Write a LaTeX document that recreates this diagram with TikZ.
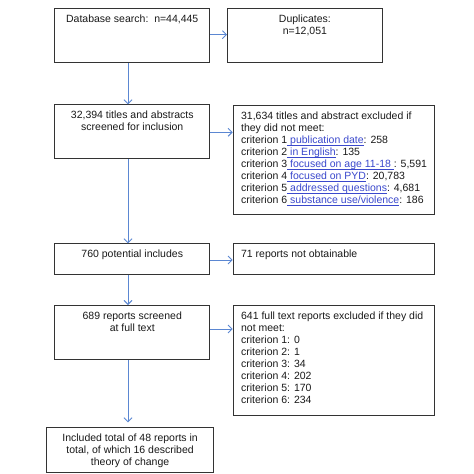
\documentclass[tikz,border=0pt]{standalone}
\usepackage{fontspec}
\setmainfont{Liberation Sans}
\usetikzlibrary{arrows.meta}
\definecolor{boxline}{HTML}{333333}
\definecolor{arrowblue}{HTML}{5B87D2}
\definecolor{linkblue}{HTML}{3A48CC}
\newsavebox{\lnkbox}
\newcommand{\lnk}[1]{{\color{linkblue}\sbox{\lnkbox}{#1}\rlap{\rule[-1.6pt]{\wd\lnkbox}{0.5pt}}\usebox{\lnkbox}}}
\tikzset{
  flowbox/.style={draw=boxline, line width=0.9pt, inner sep=0pt, anchor=north west, font=\fontsize{10.5}{12}\selectfont, text=black!90},
  flowarrow/.style={draw=arrowblue, line width=0.9pt, -{Straight Barb[length=4pt,width=8pt]}}
}
\newcommand{\cbox}[3]{\parbox[t][#2][t]{#1}{\centering\vspace*{6.5pt}#3\par}}
\newcommand{\lbox}[3]{\parbox[t][#2][t]{#1}{\raggedright\leftskip=8pt\vspace*{6.5pt}#3\par}}
\begin{document}
\begin{tikzpicture}[x=1pt,y=-1pt]
\useasboundingbox (0,0) rectangle (474,474);
\node[flowbox] (b1) at (54.3,8.3) {\cbox{155pt}{54pt}{Database search:\ \ n=44,445}};
\node[flowbox] (b2) at (227,8.3) {\cbox{155pt}{54pt}{Duplicates:\\n=12,051}};
\node[flowbox] (b3) at (54.3,104.3) {\cbox{155pt}{54pt}{32,394 titles and abstracts\\screened for inclusion}};
\node[flowbox] (b4) at (232.7,105) {\lbox{201pt}{109pt}{31,634 titles and abstract excluded if\\they did not meet:\\criterion 1\lnk{\ publication date}: 258\\criterion 2\lnk{\ in English}: 135\\criterion 3\lnk{\ focused on age 11-18\ }: 5,591\\criterion 4\lnk{\ focused on PYD}: 20,783\\criterion 5\lnk{\ addressed questions}: 4,681\\criterion 6\lnk{\ substance use/violence}: 186}};
\node[flowbox] (b5) at (54.3,243.3) {\cbox{155pt}{30.3pt}{760 potential includes}};
\node[flowbox] (b6) at (232.7,243.3) {\lbox{201pt}{30.3pt}{71 reports not obtainable}};
\node[flowbox] (b7) at (54.3,305) {\cbox{155pt}{54.3pt}{689 reports screened\\at full text}};
\node[flowbox] (b8) at (232.7,305) {\lbox{201pt}{110pt}{641 full text reports excluded if they did\\not meet:\\criterion 1: 0\\criterion 2: 1\\criterion 3: 34\\criterion 4: 202\\criterion 5: 170\\criterion 6: 234}};
\node[flowbox] (b9) at (46,426.7) {\cbox{167.3pt}{45.6pt}{Included total of 48 reports in\\total, of which 16 described\\theory of change}};
% horizontal arrows
\draw[flowarrow] (b1.east |- 0,34.7) -- (b2.west |- 0,34.7);
\draw[flowarrow] (b3.east |- 0,132.3) -- (b4.west |- 0,132.3);
\draw[flowarrow] (b5.east |- 0,260) -- (b6.west |- 0,260);
\draw[flowarrow] (b7.east |- 0,329) -- (b8.west |- 0,329);
% vertical arrows
\draw[flowarrow] (128,0 |- b1.south) -- (128,0 |- b3.north);
\draw[flowarrow] (128,0 |- b3.south) -- (128,0 |- b5.north);
\draw[flowarrow] (128,0 |- b5.south) -- (128,0 |- b7.north);
\coordinate (tip9) at (128,422.3);
\draw[flowarrow] (128,0 |- b7.south) -- (tip9);
\end{tikzpicture}
\end{document}
